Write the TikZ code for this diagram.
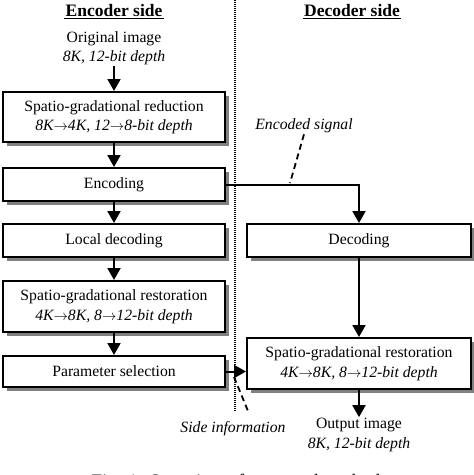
\documentclass[tikz,border=0pt]{standalone}
\usepackage{fontspec}
\setmainfont{Liberation Serif}
\usetikzlibrary{arrows.meta,shadows}
\newcommand{\tto}{$\rightarrow$}
\begin{document}
\begin{tikzpicture}[x=1pt, y=-1pt, font=\fontsize{15.7}{19.5}\selectfont]
    % Define styles
    \tikzset{
        stage/.style={rectangle, draw, line width=2pt, fill=white, inner sep=0pt, align=center,
            drop shadow={shadow xshift=3.5pt, shadow yshift=-3.5pt, fill=black!50, opacity=1}},
        leftstage/.style={stage, minimum width=222pt},
        rightstage/.style={stage, minimum width=224pt},
        note/.style={align=center, inner sep=1pt},
        heading/.style={font=\fontsize{17.5}{20}\selectfont\bfseries, inner sep=1pt},
        flow/.style={-{Triangle[width=13pt, length=12pt]}, line width=2pt},
        pointer/.style={line width=1.8pt, dash pattern=on 6pt off 4pt},
    }
    \useasboundingbox (0,0) rectangle (474,475);

    % Headings
    \node[heading] (enctitle) at (114,11) {Encoder side};
    \node[heading] (dectitle) at (352,11) {Decoder side};
    \draw[line width=1.5pt] (enctitle.south west) -- (enctitle.south east);
    \draw[line width=1.5pt] (dectitle.south west) -- (dectitle.south east);

    % Divider
    \coordinate (divtop) at (235,0);
    \coordinate (divbot) at (235,411);
    \draw[line width=1.4pt, dash pattern=on 1pt off 1pt] (divtop) -- (divbot);

    % Encoder side
    \node[note] (src) at (114,48) {Original image\\\textit{8K, 12-bit depth}};
    \node[leftstage, minimum height=50pt] (reduce) at (114,117) {Spatio-gradational reduction\\\textit{8K\tto4K, 12\tto8-bit depth}};
    \node[leftstage, minimum height=33pt] (encode) at (114,184.5) {Encoding};
    \node[leftstage, minimum height=33pt] (localdec) at (114,240.5) {Local decoding};
    \node[leftstage, minimum height=51pt] (restore) at (114,306.5) {Spatio-gradational restoration\\\textit{4K\tto8K, 8\tto12-bit depth}};
    \node[leftstage, minimum height=31pt] (param) at (114,371.5) {Parameter selection};

    % Decoder side
    \node[rightstage, minimum height=33pt] (decode) at (359,240.5) {Decoding};
    \node[rightstage, minimum height=51pt] (drestore) at (359,363.5) {Spatio-gradational restoration\\\textit{4K\tto8K, 8\tto12-bit depth}};
    \node[note] (out) at (359,435) {Output image\\\textit{8K, 12-bit depth}};

    % Labels
    \node[note] (signal) at (304,126) {\textit{Encoded signal}};
    \node[note] (side) at (233,429) {\textit{Side information}};
    \coordinate (sigpt) at (290,183);
    \coordinate (sidetop) at (234,377);
    \coordinate (sidebot) at (248,411);

    % Caption
    \node[font=\fontsize{19}{22}\selectfont] (caption) at (236,483) {Fig. 1. Overview of proposed method};

    % Arrows
    \draw[flow] (src.south) -- (reduce.north);
    \draw[flow] (reduce.south) -- (encode.north);
    \draw[flow] (encode.south) -- (localdec.north);
    \draw[flow] (localdec.south) -- (restore.north);
    \draw[flow] (restore.south) -- (param.north);
    \draw[flow] (encode.east) -| (decode.north);
    \draw[flow] (decode.south) -- (drestore.north);
    \draw[flow] (param.east) -- (drestore.west |- param.east);
    \draw[flow] (drestore.south) -- (out.north);
    \draw[pointer] (signal.south) -- (sigpt);
    \draw[pointer] (sidetop) -- (sidebot);
\end{tikzpicture}
\end{document}
